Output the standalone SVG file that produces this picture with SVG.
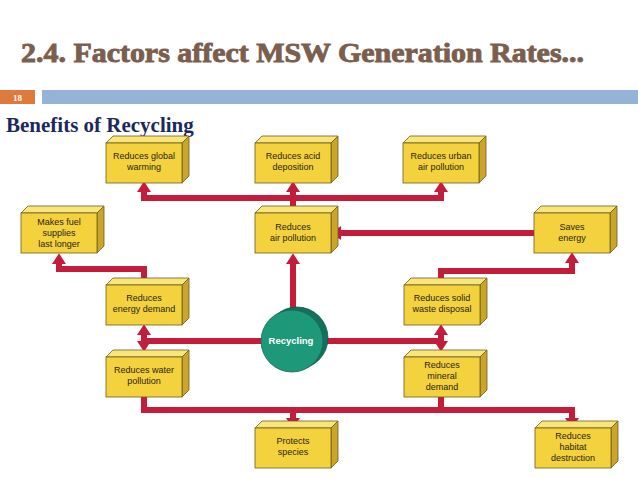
<svg xmlns="http://www.w3.org/2000/svg" width="638" height="479" viewBox="0 0 638 479">
<style>
.top{fill:#f8e57c;stroke:#6e5d1c;stroke-width:0.8}
.side{fill:#c9a52c;stroke:#6e5d1c;stroke-width:0.8}
.front{fill:#f3d23e;stroke:#6e5d1c;stroke-width:0.8}
.lbl{font-family:"Liberation Sans",Arial,sans-serif;font-size:9px;fill:#2a2416;text-anchor:middle}
.con{fill:none;stroke:#c41c3b;stroke-width:6;stroke-linejoin:miter}
</style>
<defs>
<marker id="ah" markerUnits="userSpaceOnUse" markerWidth="14" markerHeight="14" viewBox="0 0 10 13" refX="1" refY="6.5" orient="auto">
<path d="M0,0 L10,6.5 L0,13 z" fill="#c41c3b"/>
</marker>
<g id="boxshape">
<polygon class="top" points="0,0 7,-7 83,-7 76,0"/>
<polygon class="side" points="76,0 83,-7 83,33 76,40"/>
<rect class="front" x="0" y="0" width="76" height="40"/>
</g>
</defs>
<rect width="638" height="479" fill="#ffffff"/>
<text x="21" y="62" font-family="'Liberation Serif',serif" font-weight="bold" font-size="27" fill="#7b5e4e" stroke="#7b5e4e" stroke-width="0.9" textLength="563" lengthAdjust="spacingAndGlyphs">2.4. Factors affect MSW Generation Rates...</text>
<rect x="0" y="90" width="35" height="14" fill="#e07a3c"/>
<text x="17.5" y="101" font-family="'Liberation Serif',serif" font-weight="bold" font-size="9" fill="#ffffff" text-anchor="middle">18</text>
<rect x="42" y="90" width="596" height="14" fill="#95b3d6"/>
<text x="6" y="132" font-family="'Liberation Serif',serif" font-weight="bold" font-size="21" fill="#1b2a5c">Benefits of Recycling</text>

<g id="connectors">
<path class="con" d="M293,213 V191" marker-end="url(#ah)"/>
<path class="con" d="M293,198 H144 V191" marker-end="url(#ah)"/>
<path class="con" d="M293,198 H441 V191" marker-end="url(#ah)"/>
<path class="con" d="M534,233 H340" marker-end="url(#ah)"/>
<path class="con" d="M441,285 V271 H572 V262" marker-end="url(#ah)"/>
<path class="con" d="M144,285 V269 H59 V263" marker-end="url(#ah)"/>
<path class="con" d="M293,310 V263" marker-end="url(#ah)"/>
<path class="con" d="M262,341 H144"/>
<path class="con" d="M144,341 V334" marker-end="url(#ah)"/>
<path class="con" d="M144,341 V342" marker-end="url(#ah)"/>
<path class="con" d="M322,341 H441"/>
<path class="con" d="M441,341 V334" marker-end="url(#ah)"/>
<path class="con" d="M441,341 V342" marker-end="url(#ah)"/>
<path class="con" d="M144,397 V410 H572 V419" marker-end="url(#ah)"/>
<path class="con" d="M293,410 V419" marker-end="url(#ah)"/>
<path class="con" d="M441,397 V410"/>
</g>

<g id="global-warming" transform="translate(106,143)"><use href="#boxshape"/><text class="lbl" x="38" y="16">Reduces global</text><text class="lbl" x="38" y="27">warming</text></g>
<g id="acid-deposition" transform="translate(255,143)"><use href="#boxshape"/><text class="lbl" x="38" y="16">Reduces acid</text><text class="lbl" x="38" y="27">deposition</text></g>
<g id="urban-air" transform="translate(403,143)"><use href="#boxshape"/><text class="lbl" x="38" y="16">Reduces urban</text><text class="lbl" x="38" y="27">air pollution</text></g>
<g id="fuel-supplies" transform="translate(21,213)"><use href="#boxshape"/><text class="lbl" x="38" y="12">Makes fuel</text><text class="lbl" x="38" y="23">supplies</text><text class="lbl" x="38" y="34">last longer</text></g>
<g id="air-pollution" transform="translate(255,213)"><use href="#boxshape"/><text class="lbl" x="38" y="17">Reduces</text><text class="lbl" x="38" y="28">air pollution</text></g>
<g id="saves-energy" transform="translate(534,213)"><use href="#boxshape"/><text class="lbl" x="38" y="17">Saves</text><text class="lbl" x="38" y="28">energy</text></g>
<g id="energy-demand" transform="translate(106,285)"><use href="#boxshape"/><text class="lbl" x="38" y="16">Reduces</text><text class="lbl" x="38" y="27">energy demand</text></g>
<g id="solid-waste" transform="translate(404,285)"><use href="#boxshape"/><text class="lbl" x="38" y="16">Reduces solid</text><text class="lbl" x="38" y="27">waste disposal</text></g>
<g id="water-pollution" transform="translate(106,357)"><use href="#boxshape"/><text class="lbl" x="38" y="16">Reduces water</text><text class="lbl" x="38" y="27">pollution</text></g>
<g id="mineral-demand" transform="translate(404,357)"><use href="#boxshape"/><text class="lbl" x="38" y="11">Reduces</text><text class="lbl" x="38" y="22">mineral</text><text class="lbl" x="38" y="33">demand</text></g>
<g id="protects-species" transform="translate(255,428)"><use href="#boxshape"/><text class="lbl" x="38" y="16">Protects</text><text class="lbl" x="38" y="27">species</text></g>
<g id="habitat" transform="translate(535,428)"><use href="#boxshape"/><text class="lbl" x="38" y="11">Reduces</text><text class="lbl" x="38" y="22">habitat</text><text class="lbl" x="38" y="33">destruction</text></g>

<g id="recycling">
<circle cx="297" cy="338" r="31" fill="#15705b" stroke="#0f5a48" stroke-width="0.8"/>
<circle cx="292" cy="341" r="31" fill="#1d9878" stroke="#126a54" stroke-width="0.8"/>
<text x="291" y="344" font-family="'Liberation Sans',Arial,sans-serif" font-weight="bold" font-size="9.5" fill="#ffffff" text-anchor="middle">Recycling</text>
</g>
</svg>
